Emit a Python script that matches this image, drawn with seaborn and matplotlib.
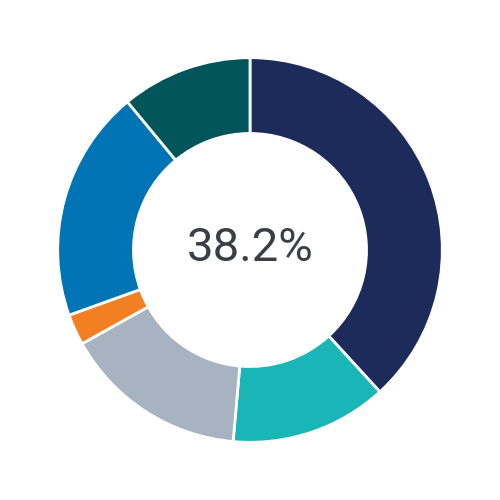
import matplotlib
matplotlib.use("Agg")
import matplotlib.pyplot as plt
import seaborn as sns

labels = ["A", "B", "C", "D", "E", "F"]
shares = [38.2, 13.2, 15.5, 2.6, 19.5, 11.0]
colors = ["#1c2b5a", "#1ab5b6", "#a8b3c2", "#f27f22", "#0074b4", "#00555a"]
center_text = "38.2%"

sns.set_theme(style="white")
plt.rcParams["font.family"] = ["Roboto", "DejaVu Sans"]

fig, ax = plt.subplots(figsize=(5, 5), dpi=100)
fig.subplots_adjust(0, 0, 1, 1)

ax.pie(shares, colors=colors, startangle=90, counterclock=False,
       radius=1.0, wedgeprops=dict(width=0.394, edgecolor="white", linewidth=2))
ax.text(0, 0.01, center_text, ha="center", va="center", fontsize=34, color="#3b3e45")
ax.set_xlim(-1.3, 1.3)
ax.set_ylim(-1.3, 1.3)
ax.set_aspect("equal")
ax.axis("off")

fig.savefig("out.png", dpi=100, facecolor="white")
